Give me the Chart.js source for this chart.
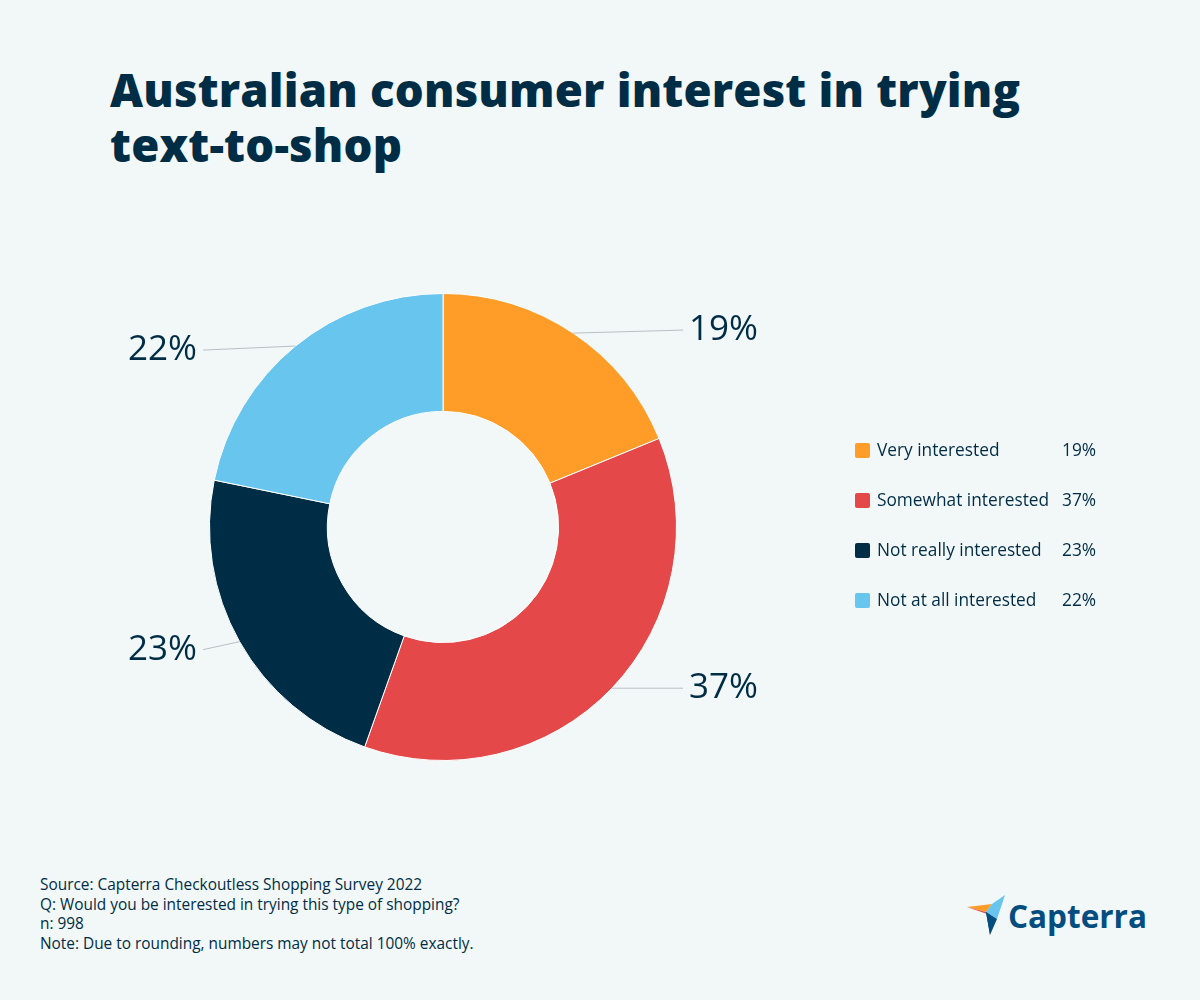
<!DOCTYPE html>
<html><head><meta charset="utf-8">
<script src="https://cdn.jsdelivr.net/npm/chart.js@4"></script>
<style>
body{margin:0;width:1200px;height:1000px;background:#f2f7f7;font-family:"Open Sans",sans-serif;color:#002d46;position:relative;overflow:hidden}
h1{position:absolute;left:110px;top:62px;margin:0;font-size:45.5px;line-height:55px;font-weight:800;letter-spacing:0.2px}
#wrap{position:absolute;left:0;top:250px;width:886px;height:554px}
#legend{position:absolute;left:855px;top:438px;font-size:17.3px}
.li{position:relative;height:50px;white-space:nowrap}
.sw{position:absolute;left:0;top:5px;width:15px;height:15px;border-radius:2px}
.lt{position:absolute;left:22px;top:0}
.lp{position:absolute;left:207px;top:0}
#foot{position:absolute;left:40px;top:875px;font-size:15.4px;line-height:19.5px}
#logo{position:absolute;left:966px;top:893px}
</style></head><body>
<h1>Australian consumer interest in trying<br>text-to-shop</h1>
<div id="wrap"><canvas id="c" width="886" height="554"></canvas></div>
<div id="legend"></div>
<div id="foot">Source: Capterra Checkoutless Shopping Survey 2022<br>Q: Would you be interested in trying this type of shopping?<br>n: 998<br>Note: Due to rounding, numbers may not total 100% exactly.</div>
<svg id="logo" width="190" height="46" viewBox="0 0 190 46">
<polygon points="1,14 26,11 20,19" fill="#ff9d28"/>
<polygon points="1,14 20,19 24,22" fill="#e54848"/>
<polygon points="26,11 39,2 31,26 20,19" fill="#68c5ee"/>
<polygon points="20,19 31,26 24,42" fill="#044d80"/>
<polygon points="20,19 24,22 24,42" fill="#044d80"/>
<text x="42" y="35" font-family="Open Sans" font-weight="700" font-size="31.5" fill="#044d80">Capterra</text>
</svg>
<script>
const categories=["Very interested","Somewhat interested","Not really interested","Not at all interested"];
const values=[19,37,23,22];
const labels=["19%","37%","23%","22%"];
const colors=["#ff9d28","#e54848","#002d46","#68c5ee"];
const lg=document.getElementById('legend');
categories.forEach((c,i)=>{lg.innerHTML+=`<div class="li"><div class="sw" style="background:${colors[i]}"></div><div class="lt">${c}</div><div class="lp">${labels[i]}</div></div>`;});
const outLabels={id:'outLabels',afterDraw(ch){
 const ctx=ch.ctx;const meta=ch.getDatasetMeta(0);
 const offs=[-3,0,8,4];
 ctx.save();ctx.font='35px "Open Sans"';ctx.fillStyle='#002d46';ctx.textBaseline='middle';
 meta.data.forEach((a,i)=>{
  const m=(a.startAngle+a.endAngle)/2;
  const x=a.x+Math.cos(m)*a.outerRadius,y=a.y+Math.sin(m)*a.outerRadius;
  const right=Math.cos(m)>0;const ly=y+offs[i];
  const ex=right?a.x+240:a.x-240;
  ctx.strokeStyle='#b8c0c4';ctx.lineWidth=1;ctx.beginPath();ctx.moveTo(x,y);ctx.lineTo(ex,ly);ctx.stroke();
  ctx.textAlign=right?'left':'right';
  ctx.fillText(labels[i],right?ex+6:ex-6,ly);
 });ctx.restore();}};
new Chart(document.getElementById('c'),{type:'doughnut',
 data:{labels:categories,datasets:[{data:values,backgroundColor:colors,borderColor:'#ffffff',borderWidth:1}]},
 options:{responsive:false,animation:false,cutout:'49.5%',layout:{padding:{top:43,bottom:43,left:209,right:209}},
  plugins:{legend:{display:false},tooltip:{enabled:false}}},plugins:[outLabels]});
</script></body></html>
